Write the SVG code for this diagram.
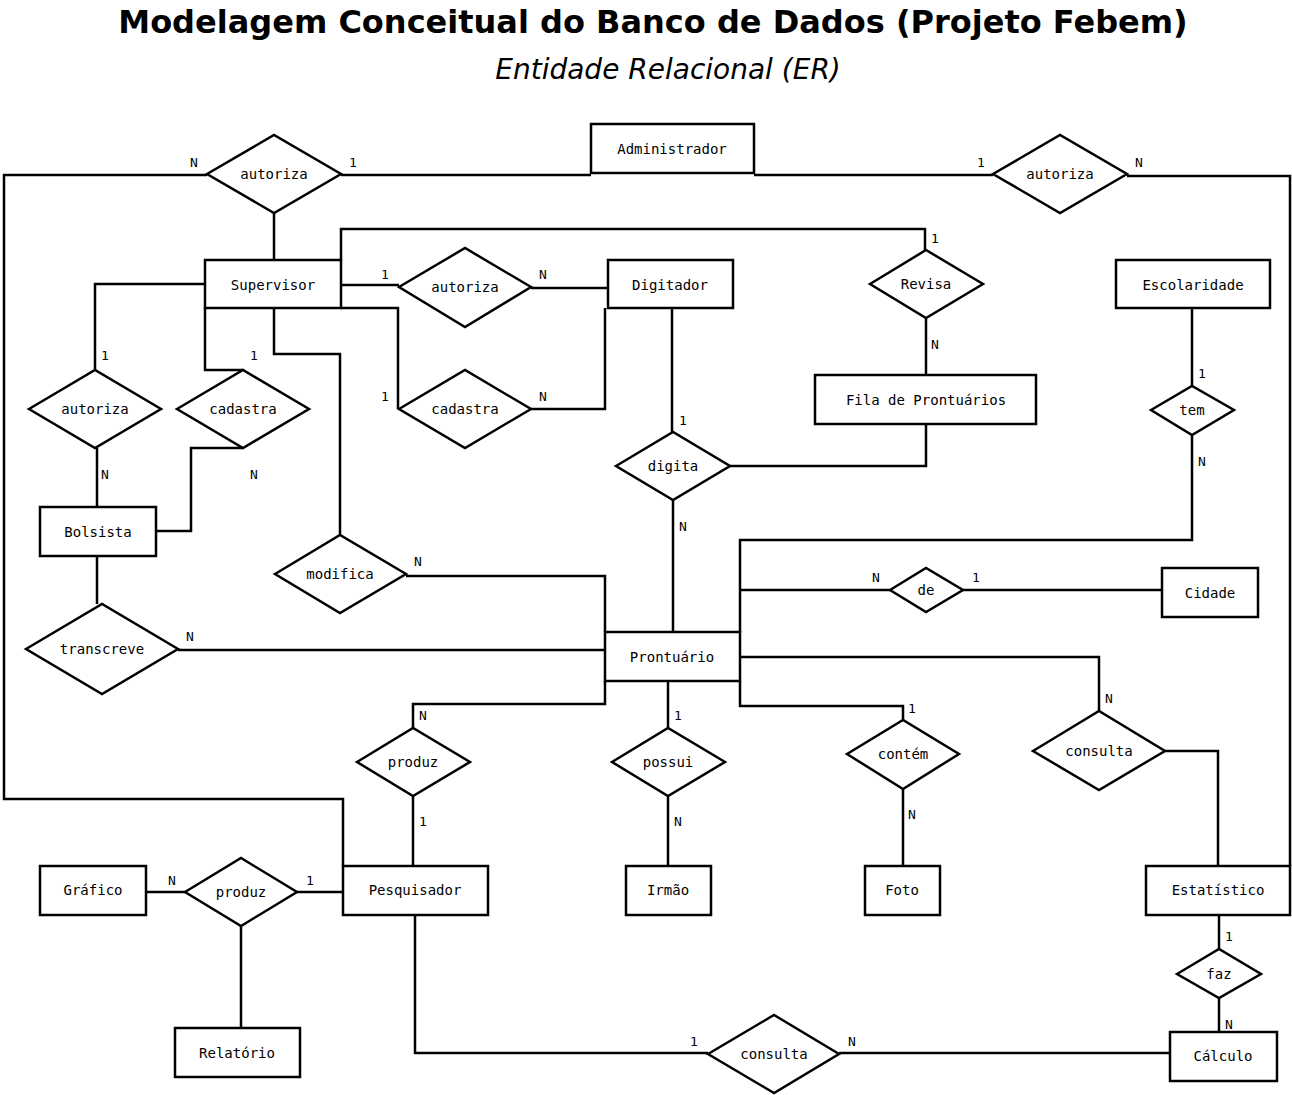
<svg xmlns="http://www.w3.org/2000/svg" width="1292" height="1095" viewBox="0 0 1292 1095">
<style>
rect{fill:#fff;stroke:#000;stroke-width:2.5}
polygon{fill:#fff;stroke:#000;stroke-width:2.5}
#connectors path{fill:none;stroke:#000;stroke-width:2.5}
text{font-family:"DejaVu Sans Mono","Liberation Mono",monospace;font-size:14px;text-anchor:middle;dominant-baseline:central}
.c{font-size:13px;text-anchor:start;dominant-baseline:auto}
.t{font-family:"DejaVu Sans",sans-serif;font-size:32px;font-weight:bold;dominant-baseline:auto}
.s{font-family:"DejaVu Sans",sans-serif;font-size:28px;font-style:italic;dominant-baseline:auto}
</style>
<rect x="0" y="0" width="1292" height="1095" style="stroke:none"/>
<text class="t" x="653" y="33">Modelagem Conceitual do Banco de Dados (Projeto Febem)</text>
<text class="s" x="668" y="79">Entidade Relacional (ER)</text>
<g id="connectors">
<path d="M207,175H4V799H343V866"/>
<path d="M341,175H591"/>
<path d="M754,175H993"/>
<path d="M1127,176H1290V866"/>
<path d="M274,213V260"/>
<path d="M341,260V229H925V250"/>
<path d="M926,318V375"/>
<path d="M341,285H399"/>
<path d="M531,288H608"/>
<path d="M341,308H398V409"/>
<path d="M531,409H605V308"/>
<path d="M205,284H95V370"/>
<path d="M97,448V507"/>
<path d="M205,308V370H243"/>
<path d="M243,448H191V531H156"/>
<path d="M274,308V354H340V535"/>
<path d="M406,576H605V632"/>
<path d="M672,308V432"/>
<path d="M730,466H926V424"/>
<path d="M673,500V632"/>
<path d="M1192,308V386"/>
<path d="M1192,435V540H740V632"/>
<path d="M740,590H890"/>
<path d="M963,590H1162"/>
<path d="M97,556V604"/>
<path d="M178,650H605"/>
<path d="M740,657H1099V711"/>
<path d="M1165,751H1218V866"/>
<path d="M740,681V706H903V720"/>
<path d="M903,789V866"/>
<path d="M668,681V728"/>
<path d="M668,796V866"/>
<path d="M605,681V704H413V728"/>
<path d="M413,796V866"/>
<path d="M146,892H185"/>
<path d="M297,892H343"/>
<path d="M241,926V1028"/>
<path d="M415,915V1053H708"/>
<path d="M839,1053H1170"/>
<path d="M1219,915V949"/>
<path d="M1219,998V1032"/>
</g>
<g id="cardinalities">
<text class="c" x="190" y="167">N</text><text class="c" x="349" y="167">1</text>
<text class="c" x="977" y="167">1</text><text class="c" x="1135" y="167">N</text>
<text class="c" x="931" y="243">1</text><text class="c" x="931" y="349">N</text>
<text class="c" x="381" y="279">1</text><text class="c" x="539" y="279">N</text>
<text class="c" x="381" y="401">1</text><text class="c" x="539" y="401">N</text>
<text class="c" x="101" y="360">1</text><text class="c" x="101" y="479">N</text>
<text class="c" x="250" y="360">1</text><text class="c" x="250" y="479">N</text>
<text class="c" x="414" y="566">N</text>
<text class="c" x="679" y="425">1</text><text class="c" x="679" y="531">N</text>
<text class="c" x="1198" y="378">1</text><text class="c" x="1198" y="466">N</text>
<text class="c" x="872" y="582">N</text><text class="c" x="972" y="582">1</text>
<text class="c" x="186" y="641">N</text>
<text class="c" x="1105" y="703">N</text>
<text class="c" x="908" y="713">1</text><text class="c" x="908" y="819">N</text>
<text class="c" x="674" y="720">1</text><text class="c" x="674" y="826">N</text>
<text class="c" x="419" y="720">N</text><text class="c" x="419" y="826">1</text>
<text class="c" x="168" y="885">N</text><text class="c" x="306" y="885">1</text>
<text class="c" x="690" y="1046">1</text><text class="c" x="848" y="1046">N</text>
<text class="c" x="1225" y="941">1</text><text class="c" x="1225" y="1029">N</text>
</g>
<g id="Administrador"><rect x="591" y="124" width="163" height="49"/><text x="672" y="149">Administrador</text></g>
<g id="Supervisor"><rect x="205" y="260" width="136" height="48"/><text x="273" y="285">Supervisor</text></g>
<g id="Digitador"><rect x="608" y="260" width="125" height="48"/><text x="670" y="285">Digitador</text></g>
<g id="Escolaridade"><rect x="1116" y="260" width="154" height="48"/><text x="1193" y="285">Escolaridade</text></g>
<g id="FilaProntuarios"><rect x="815" y="375" width="221" height="49"/><text x="926" y="400">Fila de Prontuários</text></g>
<g id="Bolsista"><rect x="40" y="507" width="116" height="49"/><text x="98" y="532">Bolsista</text></g>
<g id="Cidade"><rect x="1162" y="568" width="96" height="49"/><text x="1210" y="593">Cidade</text></g>
<g id="Prontuario"><rect x="605" y="632" width="135" height="49"/><text x="672" y="657">Prontuário</text></g>
<g id="Grafico"><rect x="40" y="866" width="106" height="49"/><text x="93" y="890">Gráfico</text></g>
<g id="Pesquisador"><rect x="343" y="866" width="145" height="49"/><text x="415" y="890">Pesquisador</text></g>
<g id="Irmao"><rect x="626" y="866" width="85" height="49"/><text x="668" y="890">Irmão</text></g>
<g id="Foto"><rect x="865" y="866" width="75" height="49"/><text x="902" y="890">Foto</text></g>
<g id="Estatistico"><rect x="1146" y="866" width="144" height="49"/><text x="1218" y="890">Estatístico</text></g>
<g id="Relatorio"><rect x="175" y="1028" width="125" height="49"/><text x="237" y="1053">Relatório</text></g>
<g id="Calculo"><rect x="1170" y="1032" width="107" height="49"/><text x="1223" y="1056">Cálculo</text></g>
<g id="autoriza1"><polygon points="207,174 274,135 341,174 274,213"/><text x="274" y="174">autoriza</text></g>
<g id="autoriza2"><polygon points="993,174 1060,135 1127,174 1060,213"/><text x="1060" y="174">autoriza</text></g>
<g id="autoriza3"><polygon points="399,287 465,248 531,287 465,327"/><text x="465" y="287">autoriza</text></g>
<g id="Revisa"><polygon points="870,284 926,250 983,284 926,318"/><text x="926" y="284">Revisa</text></g>
<g id="cadastra1"><polygon points="399,409 465,370 531,409 465,448"/><text x="465" y="409">cadastra</text></g>
<g id="autoriza4"><polygon points="29,409 95,370 161,409 95,448"/><text x="95" y="409">autoriza</text></g>
<g id="cadastra2"><polygon points="177,409 243,370 309,409 243,448"/><text x="243" y="409">cadastra</text></g>
<g id="tem"><polygon points="1151,410 1192,386 1234,410 1192,435"/><text x="1192" y="410">tem</text></g>
<g id="digita"><polygon points="616,466 673,432 730,466 673,500"/><text x="673" y="466">digita</text></g>
<g id="modifica"><polygon points="275,574 340,535 406,574 340,613"/><text x="340" y="574">modifica</text></g>
<g id="de"><polygon points="890,590 926,568 963,590 926,612"/><text x="926" y="590">de</text></g>
<g id="transcreve"><polygon points="26,649 102,604 178,649 102,694"/><text x="102" y="649">transcreve</text></g>
<g id="produz1"><polygon points="357,762 413,728 470,762 413,796"/><text x="413" y="762">produz</text></g>
<g id="possui"><polygon points="612,762 668,728 725,762 668,796"/><text x="668" y="762">possui</text></g>
<g id="contem"><polygon points="847,754 903,720 959,754 903,789"/><text x="903" y="754">contém</text></g>
<g id="consulta1"><polygon points="1033,751 1099,711 1165,751 1099,790"/><text x="1099" y="751">consulta</text></g>
<g id="produz2"><polygon points="185,892 241,858 297,892 241,926"/><text x="241" y="892">produz</text></g>
<g id="faz"><polygon points="1177,974 1219,949 1261,974 1219,998"/><text x="1219" y="974">faz</text></g>
<g id="consulta2"><polygon points="708,1054 774,1015 839,1054 774,1093"/><text x="774" y="1054">consulta</text></g>
</svg>
